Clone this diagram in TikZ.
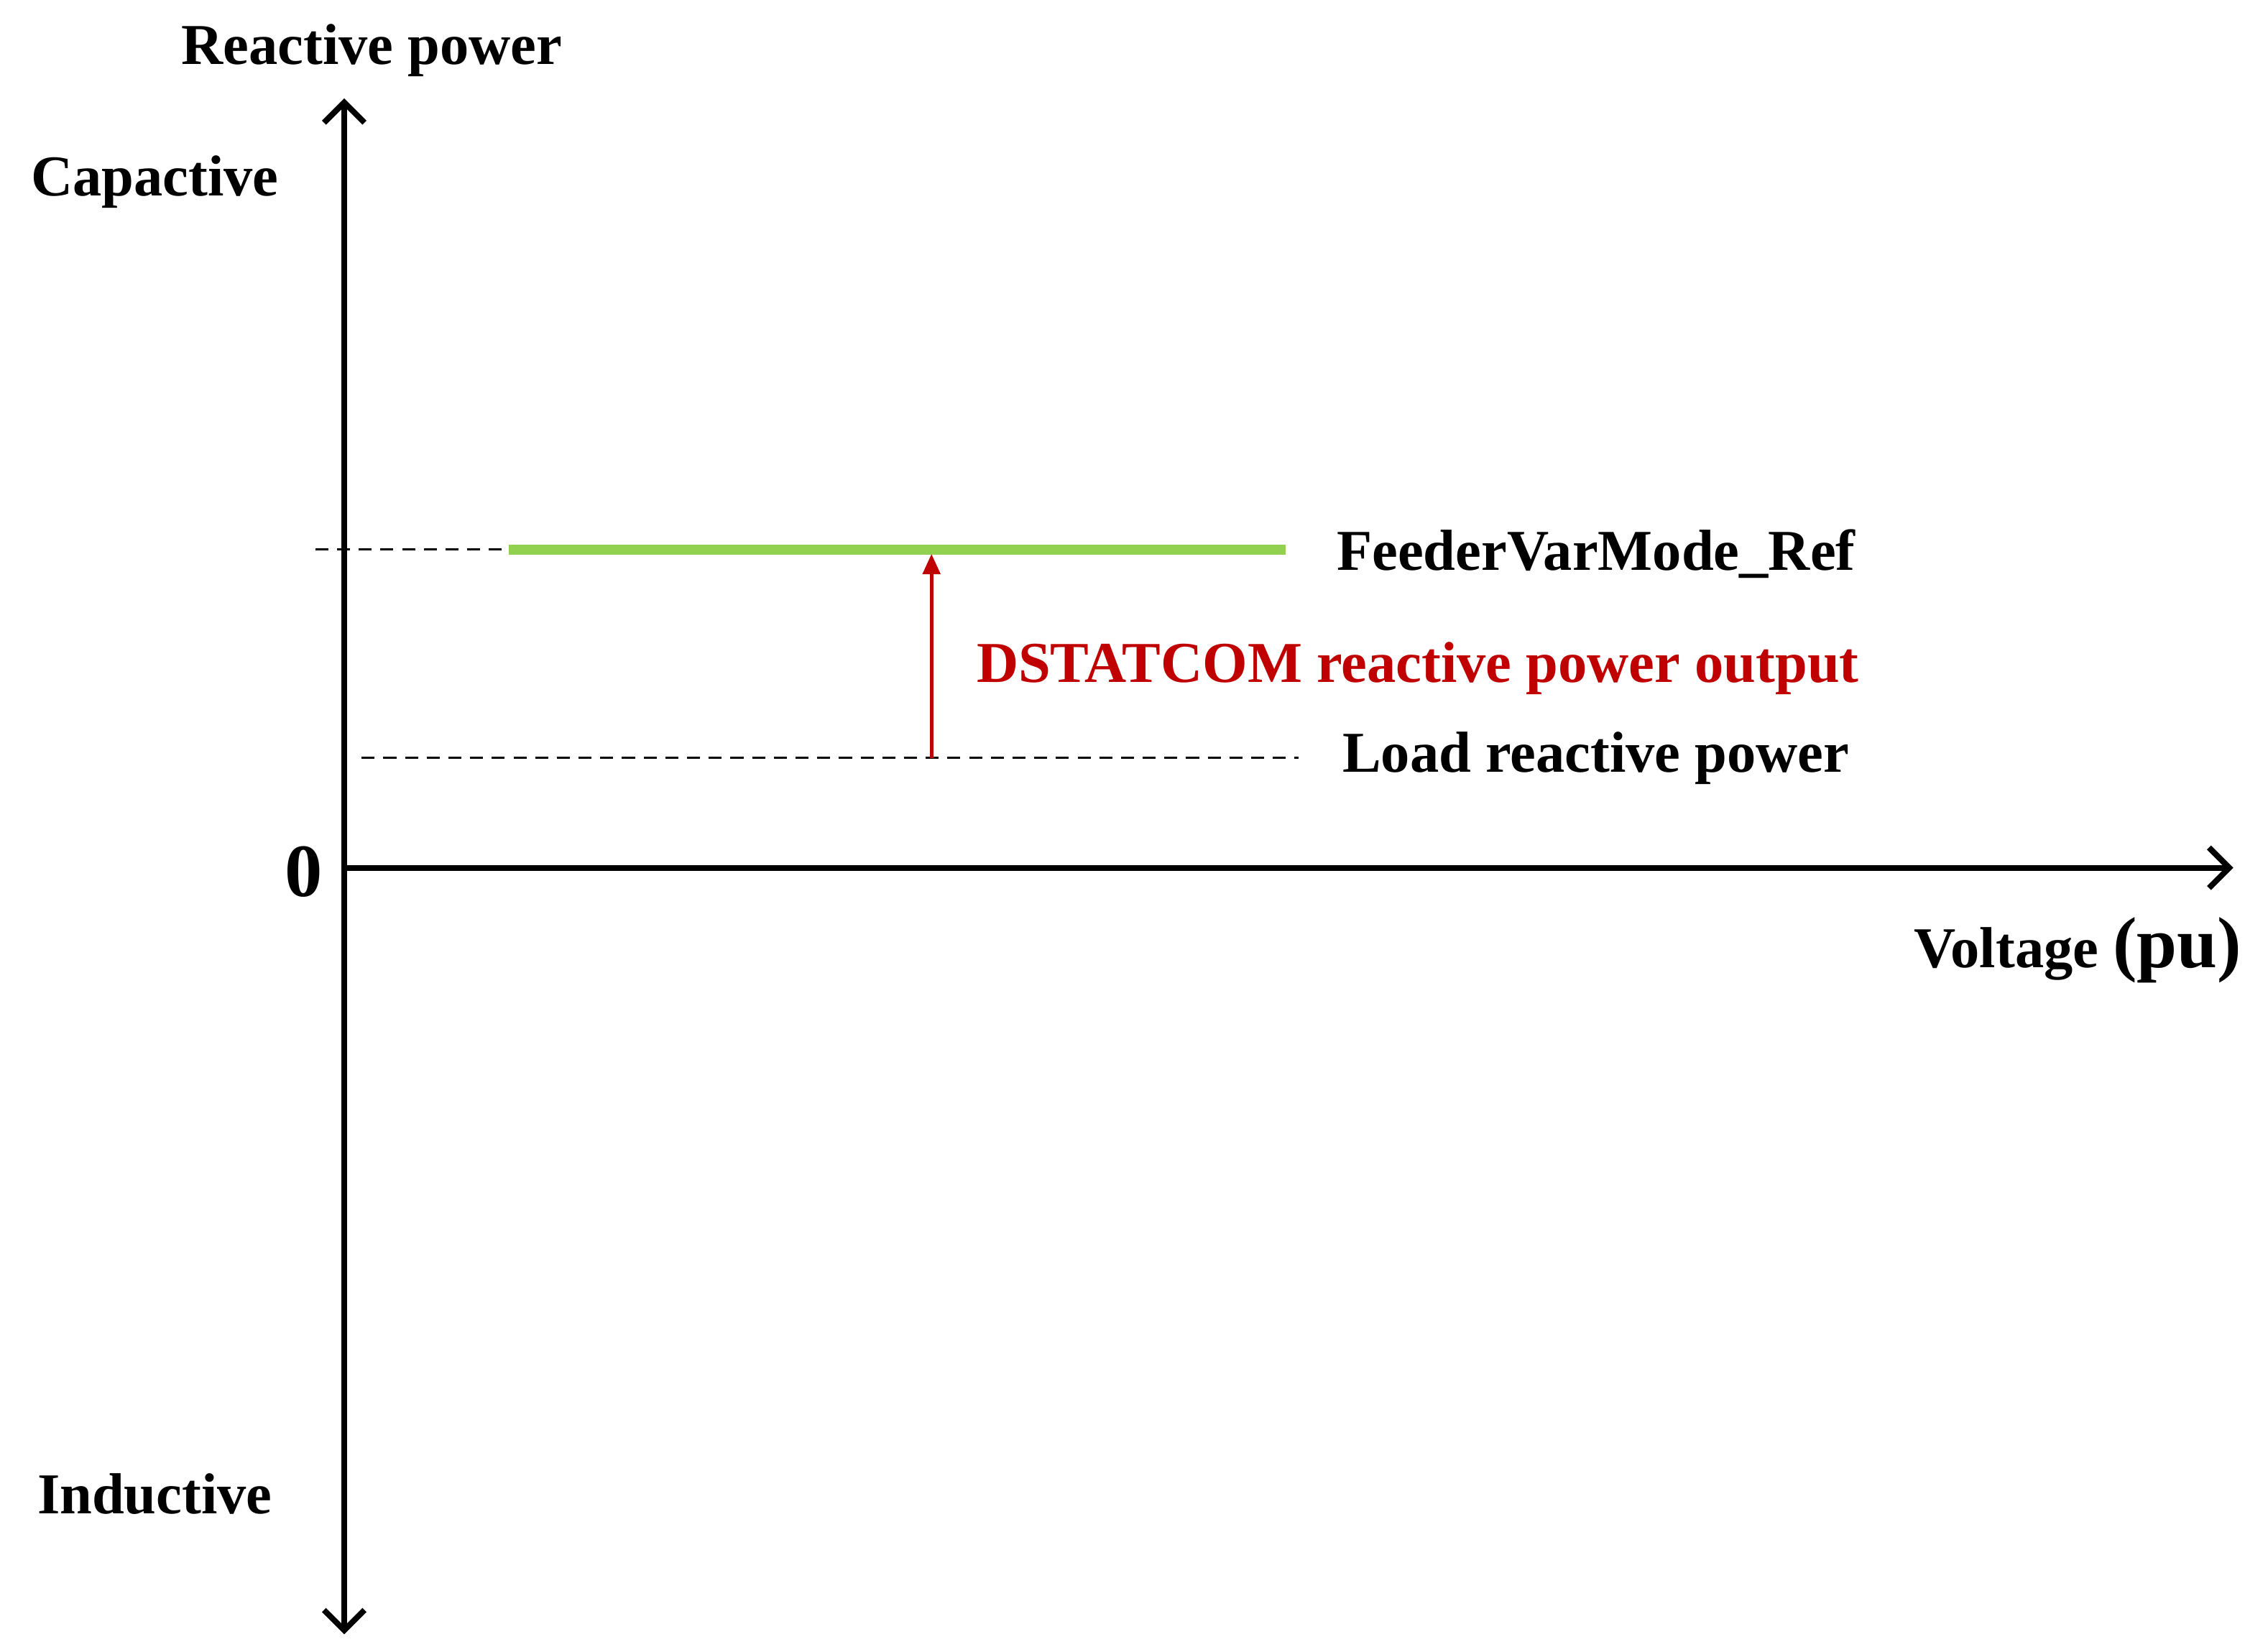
\documentclass[tikz,border=0pt]{standalone}
\usepackage{fontspec}
\setmainfont{Liberation Serif}
\usetikzlibrary{arrows.meta}
\definecolor{grn}{RGB}{146,208,80}
\definecolor{rd}{RGB}{192,0,0}
\begin{document}
\begin{tikzpicture}[x=1pt,y=-1pt,
  lbl/.style={font=\fontsize{40}{46}\selectfont\bfseries, inner sep=0pt},
  axis/.style={line width=4pt, -{Straight Barb[length=14pt,width=28pt,line width=4pt]}},
  dsh/.style={line width=1.6pt, dash pattern=on 9pt off 6pt}]
\useasboundingbox (0,0) rectangle (1568,1142);
\coordinate (o) at (238,600);
\coordinate (yt) at (238,68);
\coordinate (yb) at (238,1130);
\coordinate (xr) at (1544,600);
\draw[axis] (o) -- (yt);
\draw[axis] (o) -- (yb);
\draw[axis] (o) -- (xr);
\coordinate (d1a) at (218,380); \coordinate (d1b) at (352,380);
\draw[dsh] (d1a) -- (d1b);
\coordinate (ga) at (352,380); \coordinate (gb) at (889,380);
\draw[grn, line width=7pt] (ga) -- (gb);
\coordinate (d2a) at (250,524); \coordinate (d2b) at (898,524);
\draw[dsh] (d2a) -- (d2b);
\coordinate (ra) at (644,524); \coordinate (rb) at (644,383);
\draw[rd, line width=2.5pt, -{Triangle[length=14pt,width=12pt]}] (ra) -- (rb);
\node[lbl] (rp) at (257,35) {Reactive power};
\node[lbl] (cap) at (107,126) {Capactive};
\node[lbl] (ind) at (107,1033) {Inductive};
\node[lbl, font=\fontsize{52}{58}\selectfont\bfseries] (z) at (210,603) {0};
\node[lbl, anchor=east] (v) at (1550,657) {Voltage {\fontsize{50}{56}\selectfont(pu)}};
\node[lbl, anchor=west] (f) at (924,383) {FeederVarMode\_Ref};
\node[lbl, anchor=west, text=rd] (ds) at (675,462) {DSTATCOM reactive power output};
\node[lbl, anchor=west] (l) at (928,524) {Load reactive power};
\end{tikzpicture}
\end{document}
